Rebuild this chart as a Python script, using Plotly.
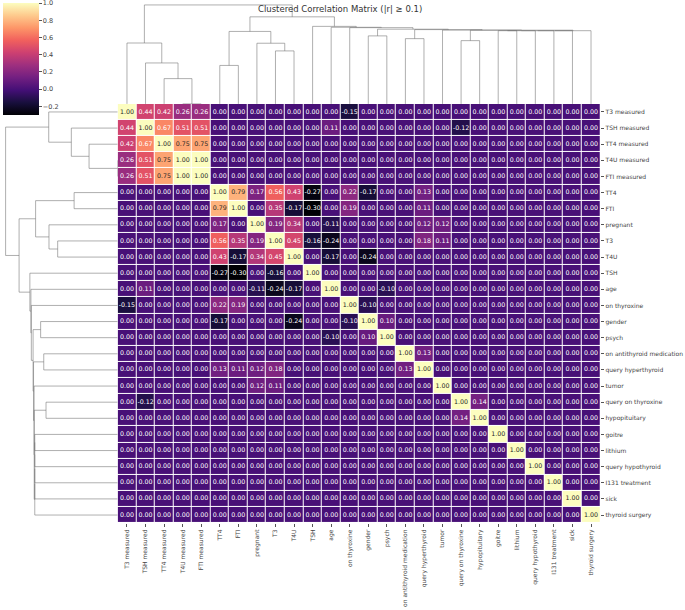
import numpy as np
import plotly.graph_objects as go

# ---------------- data ----------------
labels = ["T3 measured", "TSH measured", "TT4 measured", "T4U measured", "FTI measured",
          "TT4", "FTI", "pregnant", "T3", "T4U", "TSH", "age", "on thyroxine", "gender",
          "psych", "on antithyroid medication", "query hyperthyroid", "tumor",
          "query on thyroxine", "hypopituitary", "goitre", "lithium", "query hypothyroid",
          "I131 treatment", "sick", "thyroid surgery"]

# non-zero off-diagonal correlations (|r| >= 0.1), symmetric
pair_a = ["T3 measured", "T3 measured", "T3 measured", "T3 measured", "T3 measured",
          "TSH measured", "TSH measured", "TSH measured", "TSH measured", "TSH measured",
          "TT4 measured", "TT4 measured", "T4U measured",
          "TT4", "TT4", "TT4", "TT4", "TT4", "TT4", "TT4", "TT4",
          "FTI", "FTI", "FTI", "FTI", "FTI",
          "pregnant", "pregnant", "pregnant", "pregnant", "pregnant",
          "T3", "T3", "T3", "T3", "T3",
          "T4U", "T4U", "age", "on thyroxine", "gender",
          "on antithyroid medication", "query on thyroxine"]
pair_b = ["TSH measured", "TT4 measured", "T4U measured", "FTI measured", "on thyroxine",
          "TT4 measured", "T4U measured", "FTI measured", "age", "query on thyroxine",
          "T4U measured", "FTI measured", "FTI measured",
          "FTI", "pregnant", "T3", "T4U", "TSH", "on thyroxine", "gender", "query hyperthyroid",
          "T3", "T4U", "TSH", "on thyroxine", "query hyperthyroid",
          "T3", "T4U", "age", "query hyperthyroid", "tumor",
          "T4U", "TSH", "age", "query hyperthyroid", "tumor",
          "age", "gender", "psych", "gender", "psych",
          "query hyperthyroid", "hypopituitary"]
pair_r = [0.44, 0.42, 0.26, 0.26, -0.15,
          0.67, 0.51, 0.51, 0.11, -0.12,
          0.75, 0.75, 1.00,
          0.79, 0.17, 0.56, 0.43, -0.27, 0.22, -0.17, 0.13,
          0.35, -0.17, -0.30, 0.19, 0.11,
          0.19, 0.34, -0.11, 0.12, 0.12,
          0.45, -0.16, -0.24, 0.18, 0.11,
          -0.17, -0.24, -0.10, -0.10, 0.10,
          0.13, 0.14]

cbar_ticks = [-0.2, 0.0, 0.2, 0.4, 0.6, 0.8, 1.0]
cbar_ticktext = ["\u22120.2", "0.0", "0.2", "0.4", "0.6", "0.8", "1.0"]

# ---------------- matrix ----------------
n = len(labels)
idx = {l: i for i, l in enumerate(labels)}
M = np.eye(n)
for a, b, r in zip(pair_a, pair_b, pair_r):
    i, j = idx[a], idx[b]
    M[i, j] = M[j, i] = r

# ---------------- average-linkage clustering (euclidean) ----------------
D = np.sqrt(((M[:, None, :] - M[None, :, :]) ** 2).sum(-1))
clusters = [dict(members=[i], pos=float(i), h=0.0) for i in range(n)]
segs = []
while len(clusters) > 1:
    best_k, best_d = None, np.inf
    for k in range(len(clusters) - 1):
        d = D[np.ix_(clusters[k]["members"], clusters[k + 1]["members"])].mean()
        if d < best_d - 1e-9:
            best_d, best_k = d, k
    L, R = clusters[best_k], clusters[best_k + 1]
    segs.append(([L["pos"], L["pos"], R["pos"], R["pos"]], [L["h"], best_d, best_d, R["h"]]))
    clusters[best_k:best_k + 2] = [dict(members=L["members"] + R["members"],
                                        pos=(L["pos"] + R["pos"]) / 2, h=best_d)]
maxh = max(s[1][1] for s in segs)

lx, ly = [], []
for p, h in segs:
    lx += p + [None]
    ly += h + [None]

# ---------------- figure ----------------
W, H = 685, 610
hx0, hx1 = 117.7 / W, 600.3 / W
hy0, hy1 = 1 - 523.1 / H, 1 - 103.9 / H
FONT = "DejaVu Sans"
line_col = "rgba(110,110,110,0.55)"

fig = go.Figure()
fig.add_trace(go.Heatmap(
    z=M, x=list(range(n)), y=list(range(n)),
    colorscale="Magma", zmin=-0.3, zmax=1.0, xgap=1, ygap=1, hoverinfo="skip",
    colorbar=dict(thickness=36, thicknessmode="pixels", len=112, lenmode="pixels",
                  x=3 / W, xanchor="left", y=1 - 3 / H, yanchor="top",
                  xpad=0, ypad=0, outlinewidth=0, ticklabeloverflow="allow",
                  tickvals=[t if t < 1 else 0.9995 for t in cbar_ticks], ticktext=cbar_ticktext,
                  ticks="outside", ticklen=3, tickwidth=0.8, tickcolor="#555",
                  tickfont=dict(size=6.5, color="#444", family=FONT)),
    xaxis="x", yaxis="y"))

rr, cc = np.meshgrid(range(n), range(n), indexing="ij")
rr, cc = rr.ravel(), cc.ravel()
vals = M.ravel()
light = vals > 0.7
for mask, col in [(~light, "white"), (light, "#262626")]:
    fig.add_trace(go.Scatter(
        x=cc[mask], y=rr[mask], mode="text",
        text=[f"{v:.2f}" for v in vals[mask]],
        textfont=dict(size=6.3, color=col, family=FONT),
        hoverinfo="skip", showlegend=False, xaxis="x", yaxis="y"))

# column dendrogram (top)
fig.add_trace(go.Scatter(x=lx, y=ly, mode="lines", line=dict(color=line_col, width=1),
                         hoverinfo="skip", showlegend=False, xaxis="x2", yaxis="y2"))
# row dendrogram (left)
fig.add_trace(go.Scatter(x=ly, y=lx, mode="lines", line=dict(color=line_col, width=1),
                         hoverinfo="skip", showlegend=False, xaxis="x3", yaxis="y3"))

tickfont = dict(size=6, color="#444", family=FONT)
fig.update_layout(
    template="none",
    width=W, height=H, autosize=False,
    margin=dict(l=0, r=0, t=0, b=0, pad=0),
    paper_bgcolor="white", plot_bgcolor="white",
    font=dict(family=FONT),
    showlegend=False,
    xaxis=dict(domain=[hx0, hx1], range=[-0.5, n - 0.5], anchor="y", automargin=False,
               tickvals=list(range(n)), ticktext=labels, tickangle=-90,
               ticks="outside", ticklen=3, tickwidth=0.8, tickcolor="#555",
               tickfont=tickfont, showgrid=False, zeroline=False, showline=False),
    yaxis=dict(domain=[hy0, hy1], range=[n - 0.5, -0.5], anchor="x", side="right",
               automargin=False, tickvals=list(range(n)), ticktext=labels,
               ticks="outside", ticklen=3, tickwidth=0.8, tickcolor="#555",
               tickfont=tickfont, showgrid=False, zeroline=False, showline=False),
    xaxis2=dict(domain=[hx0, hx1], range=[-0.5, n - 0.5], anchor="y2", visible=False),
    yaxis2=dict(domain=[hy1, 1.0], range=[0, maxh * 1.05], anchor="x2", visible=False),
    xaxis3=dict(domain=[0, hx0], range=[maxh * 1.05, 0], anchor="y3", visible=False),
    yaxis3=dict(domain=[hy0, hy1], range=[n - 0.5, -0.5], anchor="x3", visible=False),
    annotations=[dict(text="Clustered Correlation Matrix (|r| \u2265 0.1)",
                      x=340 / W, y=1 - 8.5 / H, xref="paper", yref="paper",
                      xanchor="center", yanchor="middle", showarrow=False,
                      font=dict(size=8.5, color="#333", family=FONT))],
)

fig.write_html("out.html", config={"displayModeBar": False},
               post_script="document.body.style.margin='0px';")
